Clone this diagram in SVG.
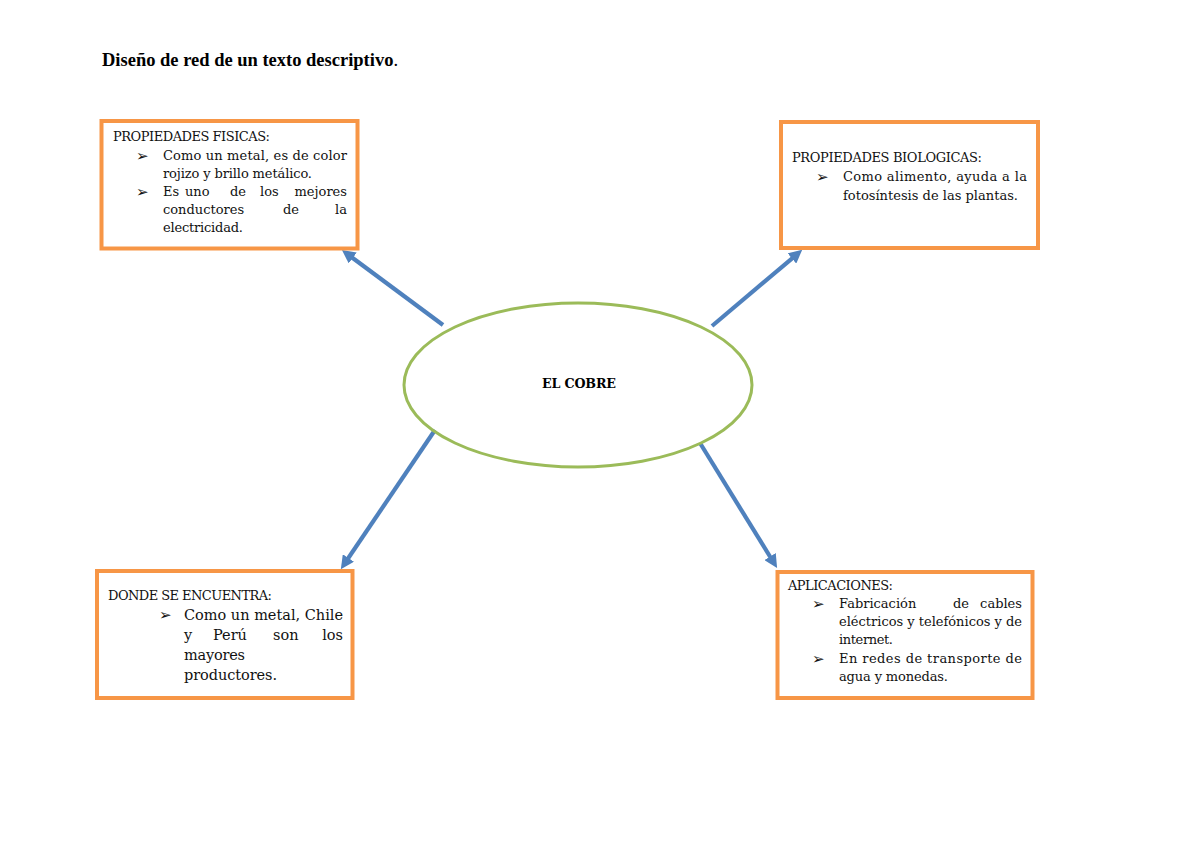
<svg xmlns="http://www.w3.org/2000/svg" width="1200" height="849" viewBox="0 0 1200 849">
<style>
.box{fill:#fff;stroke:#F79646;stroke-width:4}
.t{font-family:"DejaVu Serif","Liberation Serif",serif;font-size:13px;fill:#111}
.tb{font-family:"DejaVu Serif","Liberation Serif",serif;font-size:14.5px;fill:#111}
.bul{font-family:"DejaVu Sans","Noto Sans",sans-serif;font-size:15px;fill:#111}
.title{font-family:"Liberation Serif","DejaVu Serif",serif;font-size:18.5px;font-weight:bold;fill:#000}
.center{font-family:"DejaVu Serif","Liberation Serif",serif;font-size:12.7px;font-weight:bold;fill:#000}
.arrow{stroke:#4F81BD;stroke-width:4.2;fill:none;marker-end:url(#ah)}
</style>
<defs>
<marker id="ah" viewBox="0 0 10 10" refX="2.5" refY="5" markerWidth="3.2" markerHeight="3.2" orient="auto">
<path d="M0,0 L10,5 L0,10 z" fill="#4F81BD"/>
</marker>
</defs>
<rect width="1200" height="849" fill="#fff"/>
<text class="title" x="102" y="66" textLength="296">Diseño de red de un texto descriptivo<tspan font-weight="normal">.</tspan></text>

<g id="connectors">
<line class="arrow" x1="443" y1="325" x2="350" y2="256"/>
<line class="arrow" x1="712" y1="326" x2="794.5" y2="256.3"/>
<line class="arrow" x1="435" y1="430" x2="346.5" y2="560.8"/>
<line class="arrow" x1="700" y1="443" x2="771.8" y2="559.5"/>
</g>

<g id="center">
<ellipse cx="578" cy="385" rx="174" ry="82" fill="none" stroke="#9BBB59" stroke-width="3"/>
<text class="center" x="542" y="388" textLength="74">EL COBRE</text>
</g>

<g id="propiedades-fisicas">
<rect class="box" x="101.5" y="121" width="256" height="127.5"/>
<text class="t" x="113" y="141" textLength="157">PROPIEDADES FISICAS:</text>
<text class="bul" x="136" y="161">➢</text>
<text class="t" x="163" y="160" textLength="184">Como un metal, es de color</text>
<text class="t" x="163" y="178" textLength="149">rojizo y brillo metálico.</text>
<text class="bul" x="136" y="197">➢</text>
<text class="t" y="196"><tspan x="163">Es</tspan><tspan x="185">uno</tspan><tspan x="230">de</tspan><tspan x="260">los</tspan></text>
<text class="t" x="347" y="196" text-anchor="end">mejores</text>
<text class="t" x="163" y="214">conductores</text>
<text class="t" x="283" y="214">de</text>
<text class="t" x="347" y="214" text-anchor="end">la</text>
<text class="t" x="163" y="232" textLength="80">electricidad.</text>
</g>

<g id="propiedades-biologicas">
<rect class="box" x="781" y="122" width="257" height="126"/>
<text class="t" x="792" y="162" textLength="190">PROPIEDADES BIOLOGICAS:</text>
<text class="bul" x="816" y="182">➢</text>
<text class="t" x="843" y="181" textLength="184">Como alimento, ayuda a la</text>
<text class="t" x="843" y="200" textLength="175">fotosíntesis de las plantas.</text>
</g>

<g id="donde-se-encuentra">
<rect class="box" x="97" y="571" width="255.5" height="127"/>
<text class="t" x="108" y="600" textLength="164">DONDE SE ENCUENTRA:</text>
<text class="bul" x="159" y="620">➢</text>
<text class="tb" x="184" y="620" textLength="159">Como un metal, Chile</text>
<text class="tb" x="184" y="640">y</text>
<text class="tb" x="213" y="640">Perú</text>
<text class="tb" x="273" y="640">son</text>
<text class="tb" x="343" y="640" text-anchor="end">los</text>
<text class="tb" x="184" y="660" textLength="61">mayores</text>
<text class="tb" x="184" y="680" textLength="93">productores.</text>
</g>

<g id="aplicaciones">
<rect class="box" x="777.5" y="572" width="255" height="126"/>
<text class="t" x="788" y="590" textLength="105">APLICACIONES:</text>
<text class="bul" x="812" y="609">➢</text>
<text class="t" x="839" y="608">Fabricación</text>
<text class="t" x="953" y="608">de</text>
<text class="t" x="1022" y="608" text-anchor="end">cables</text>
<text class="t" x="839" y="626" textLength="183">eléctricos y telefónicos y de</text>
<text class="t" x="839" y="644" textLength="54">internet.</text>
<text class="bul" x="812" y="664">➢</text>
<text class="t" x="839" y="663" textLength="183">En redes de transporte de</text>
<text class="t" x="839" y="681" textLength="109">agua y monedas.</text>
</g>
</svg>
